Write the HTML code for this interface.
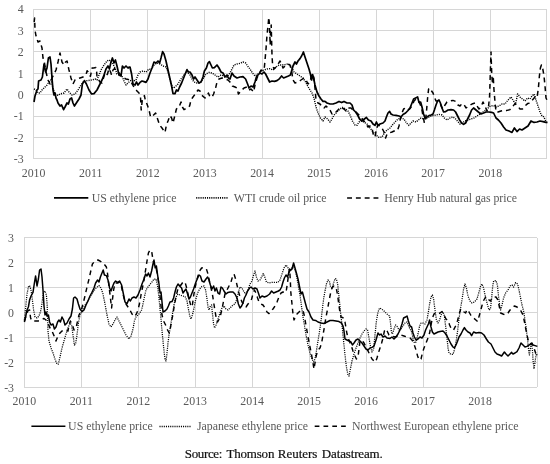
<!DOCTYPE html>
<html><head><meta charset="utf-8"><title>Ethylene prices</title>
<style>
html,body{margin:0;padding:0;background:#fff;}
body{width:550px;height:464px;overflow:hidden;}
svg{display:block;}
text{font-family:"Liberation Serif",serif;font-size:11.85px;fill:#595959;}
.cap{font-size:13px;fill:#111;stroke:#111;stroke-width:0.2;}
.g{stroke:#d6d6d6;stroke-width:1;fill:none;shape-rendering:crispEdges;}
.s{stroke:#000;stroke-width:1.7;fill:none;stroke-linejoin:round;stroke-linecap:butt;}
.d{stroke:#000;stroke-width:1.5;fill:none;stroke-dasharray:4.9 3.9;stroke-linejoin:round;}
.t{stroke:#000;stroke-width:1.4;fill:none;stroke-dasharray:1.1 1.1;stroke-linejoin:round;}
.b .s{stroke-width:1.5;}
.b .d{stroke-width:1.45;stroke-dasharray:4.7 4.1;}
.b .t{stroke-width:1.25;}
</style></head><body>
<svg width="550" height="464" viewBox="0 0 550 464">
<rect width="550" height="464" fill="#fff"/>

<line class="g" x1="33.6" x2="546.6" y1="9.0" y2="9.0"/>
<text x="23.6" y="13.3" text-anchor="end">4</text>
<line class="g" x1="33.6" x2="546.6" y1="30.4" y2="30.4"/>
<text x="23.6" y="34.7" text-anchor="end">3</text>
<line class="g" x1="33.6" x2="546.6" y1="51.8" y2="51.8"/>
<text x="23.6" y="56.1" text-anchor="end">2</text>
<line class="g" x1="33.6" x2="546.6" y1="73.2" y2="73.2"/>
<text x="23.6" y="77.5" text-anchor="end">1</text>
<line class="g" x1="33.6" x2="546.6" y1="94.6" y2="94.6"/>
<text x="23.6" y="98.9" text-anchor="end">0</text>
<line class="g" x1="33.6" x2="546.6" y1="116.0" y2="116.0"/>
<text x="23.6" y="120.3" text-anchor="end">-1</text>
<line class="g" x1="33.6" x2="546.6" y1="137.4" y2="137.4"/>
<text x="23.6" y="141.7" text-anchor="end">-2</text>
<line class="g" x1="33.6" x2="546.6" y1="158.8" y2="158.8"/>
<text x="23.6" y="163.1" text-anchor="end">-3</text>
<line class="g" x1="33.6" x2="33.6" y1="9.0" y2="158.8"/>
<text x="33.6" y="177.0" text-anchor="middle">2010</text>
<line class="g" x1="90.7" x2="90.7" y1="9.0" y2="158.8"/>
<text x="90.7" y="177.0" text-anchor="middle">2011</text>
<line class="g" x1="147.8" x2="147.8" y1="9.0" y2="158.8"/>
<text x="147.8" y="177.0" text-anchor="middle">2012</text>
<line class="g" x1="204.9" x2="204.9" y1="9.0" y2="158.8"/>
<text x="204.9" y="177.0" text-anchor="middle">2013</text>
<line class="g" x1="262.0" x2="262.0" y1="9.0" y2="158.8"/>
<text x="262.0" y="177.0" text-anchor="middle">2014</text>
<line class="g" x1="319.1" x2="319.1" y1="9.0" y2="158.8"/>
<text x="319.1" y="177.0" text-anchor="middle">2015</text>
<line class="g" x1="376.1" x2="376.1" y1="9.0" y2="158.8"/>
<text x="376.1" y="177.0" text-anchor="middle">2016</text>
<line class="g" x1="433.2" x2="433.2" y1="9.0" y2="158.8"/>
<text x="433.2" y="177.0" text-anchor="middle">2017</text>
<line class="g" x1="490.3" x2="490.3" y1="9.0" y2="158.8"/>
<text x="490.3" y="177.0" text-anchor="middle">2018</text>
<line class="g" x1="546.6" x2="546.6" y1="9.0" y2="158.8"/>
<path class="t" d="M34.0,89.0 L36.0,90.0 L38.0,93.0 L40.0,93.0 L42.0,90.0 L45.0,87.0 L47.0,85.0 L49.0,82.0 L51.0,80.0 L53.0,88.0 L55.0,94.0 L58.0,95.4 L60.0,94.0 L64.0,93.0 L67.0,89.0 L69.0,92.0 L72.0,95.0 L75.0,94.0 L78.0,90.0 L81.0,85.0 L84.0,81.0 L88.0,80.5 L92.0,80.0 L95.0,79.0 L97.0,80.0 L99.0,75.0 L101.0,70.0 L104.0,65.0 L107.0,61.0 L109.0,60.0 L112.0,62.0 L115.0,68.0 L117.0,74.0 L120.0,75.0 L122.0,76.0 L124.0,81.0 L126.0,85.0 L128.0,83.0 L130.0,81.0 L132.0,80.0 L134.0,81.0 L136.0,80.0 L138.0,75.0 L140.0,72.0 L143.0,71.0 L146.0,72.0 L149.0,69.0 L151.0,69.5 L154.0,65.0 L157.0,63.0 L160.0,64.0 L163.0,66.0 L166.0,67.0 L168.0,72.0 L170.0,79.0 L172.0,86.0 L173.0,88.0 L175.0,87.0 L178.0,84.0 L181.0,79.0 L184.0,75.0 L187.0,72.0 L190.0,75.0 L192.0,79.0 L194.0,82.0 L197.0,83.0 L200.0,83.0 L203.0,79.0 L206.0,74.0 L209.0,72.4 L212.0,73.0 L215.0,75.0 L218.0,77.0 L221.0,75.0 L224.0,76.0 L227.0,77.0 L230.0,73.0 L232.0,69.0 L234.0,65.0 L237.0,64.0 L240.0,63.4 L243.0,62.0 L245.6,63.0 L247.6,66.0 L250.0,69.0 L252.4,73.0 L255.0,76.0 L258.0,74.0 L261.0,71.0 L264.0,70.0 L267.0,69.0 L270.0,68.6 L273.0,70.0 L276.0,67.0 L279.0,65.0 L282.0,65.0 L285.0,64.6 L288.0,64.0 L290.0,65.0 L292.0,68.0 L294.0,72.0 L297.0,74.0 L300.0,76.0 L303.0,78.0 L305.6,82.0 L307.6,86.0 L310.0,90.0 L312.0,93.0 L314.0,98.0 L316.0,107.0 L318.0,113.0 L320.4,118.0 L323.0,121.0 L325.0,117.0 L327.6,119.0 L330.0,122.0 L332.0,119.0 L334.0,115.0 L337.0,112.0 L340.0,109.0 L342.4,107.4 L345.0,108.6 L348.0,111.0 L350.0,115.0 L352.4,121.0 L355.0,125.0 L357.0,125.4 L359.0,122.0 L361.0,121.0 L364.0,122.0 L367.0,124.0 L370.0,128.0 L373.0,132.0 L376.0,135.0 L379.0,137.4 L382.0,137.0 L384.4,133.0 L387.0,130.0 L390.0,128.0 L392.4,125.0 L395.0,122.0 L398.0,119.0 L401.0,118.0 L404.0,119.0 L406.4,123.0 L409.0,125.4 L411.0,123.0 L413.0,121.0 L416.0,122.0 L418.4,120.0 L421.0,118.0 L424.0,119.0 L427.0,118.0 L430.0,116.4 L433.0,115.6 L436.0,115.0 L439.0,114.4 L442.0,115.0 L444.4,118.0 L447.0,120.0 L450.0,118.0 L453.0,117.0 L455.6,119.0 L458.0,121.6 L460.0,124.0 L462.4,123.0 L465.0,121.0 L468.0,120.0 L471.0,119.0 L474.0,118.0 L477.0,116.0 L480.0,114.0 L483.0,112.0 L486.0,110.0 L489.0,107.0 L490.6,106.0 L493.6,105.6 L496.0,107.0 L499.0,106.0 L502.0,104.0 L505.0,104.0 L508.0,100.0 L511.0,97.0 L513.6,101.0 L515.6,104.0 L517.6,94.0 L520.0,97.0 L522.4,99.0 L525.0,101.0 L527.6,98.0 L530.0,99.0 L532.0,96.0 L534.0,94.0 L536.0,100.0 L538.0,106.0 L540.0,112.0 L542.0,116.0 L544.0,117.0 L546.0,122.0 L547.5,123.0"/>
<path class="d" d="M34.2,22.0 L34.6,18.0 L35.0,30.0 L36.0,36.0 L38.0,42.0 L40.0,41.0 L42.0,48.0 L43.0,58.0 L44.5,63.0 L46.0,72.0 L48.0,80.0 L50.0,84.0 L52.0,78.0 L54.0,74.0 L56.0,70.0 L58.0,62.0 L60.0,53.0 L62.0,62.0 L64.0,65.0 L65.5,62.0 L67.0,61.0 L69.0,70.0 L71.0,78.0 L73.0,84.0 L75.0,80.0 L77.0,79.0 L80.0,78.0 L83.0,77.0 L86.0,74.7 L87.1,70.8 L88.2,72.0 L88.8,74.7 L90.4,76.3 L92.1,68.0 L93.7,67.9 L95.9,67.5 L96.5,69.7 L97.0,76.9 L98.1,79.0 L100.0,82.0 L102.0,83.0 L103.5,78.0 L104.7,74.0 L106.0,76.0 L107.5,74.0 L109.0,68.6 L110.8,72.5 L111.5,75.0 L113.0,70.0 L114.6,68.6 L116.0,71.0 L118.0,72.0 L120.0,74.0 L122.0,76.0 L124.0,78.0 L126.0,79.0 L128.4,79.6 L130.5,80.7 L132.7,85.0 L135.0,89.0 L137.0,91.0 L139.0,93.0 L140.5,97.0 L141.2,110.0 L142.3,100.0 L144.4,95.6 L145.5,101.0 L147.0,104.0 L149.0,110.0 L150.6,117.0 L153.0,115.6 L155.6,113.0 L157.6,119.0 L159.6,125.0 L162.0,128.0 L165.0,132.4 L166.4,125.0 L168.0,121.0 L170.0,115.6 L171.6,118.0 L173.0,123.0 L175.0,115.0 L176.4,109.0 L179.0,107.0 L181.0,102.0 L182.4,107.0 L184.0,109.6 L187.0,108.0 L189.6,106.0 L191.0,100.0 L193.0,97.0 L196.0,93.0 L198.0,90.0 L200.0,91.0 L201.6,95.0 L205.0,98.0 L207.0,96.0 L208.4,93.0 L210.0,97.0 L212.0,97.0 L213.6,94.0 L215.6,88.0 L217.0,82.0 L219.0,79.0 L222.0,78.0 L225.0,79.0 L228.0,80.0 L230.0,82.0 L232.4,86.0 L235.0,87.0 L237.0,88.0 L238.4,94.0 L241.0,91.0 L244.0,88.0 L247.0,87.0 L249.0,90.0 L251.0,89.0 L253.6,92.0 L255.0,85.0 L257.0,78.0 L259.0,74.0 L261.0,70.0 L263.0,71.0 L264.4,67.0 L266.0,49.0 L267.0,35.0 L268.2,24.0 L268.8,17.2 L269.4,24.0 L269.8,35.0 L270.2,45.0 L270.6,30.0 L271.2,25.0 L271.6,40.0 L272.0,55.0 L272.6,65.0 L274.0,69.0 L277.0,66.0 L280.0,61.0 L281.6,64.0 L283.0,68.0 L285.0,66.0 L288.0,64.0 L290.0,65.0 L291.6,71.0 L293.0,80.0 L295.0,83.0 L298.0,82.0 L301.0,80.0 L304.0,78.0 L306.0,80.0 L308.0,84.0 L310.0,82.0 L311.6,75.0 L313.0,74.0 L314.0,79.0 L315.0,88.0 L316.0,100.0 L318.0,103.0 L320.0,104.0 L321.6,106.0 L324.0,108.0 L326.0,106.0 L328.0,108.0 L330.0,110.0 L332.0,114.0 L334.0,114.0 L336.0,112.0 L338.0,110.0 L340.0,107.4 L342.0,108.0 L344.0,109.0 L346.0,111.0 L348.0,108.0 L351.0,108.0 L353.0,110.0 L356.0,112.0 L359.0,115.0 L361.0,117.0 L363.0,120.0 L365.6,123.0 L368.0,127.0 L370.0,126.0 L372.0,128.0 L373.6,136.0 L375.0,137.0 L376.4,129.0 L378.0,125.0 L380.0,126.0 L382.0,128.0 L384.0,132.0 L385.6,138.0 L387.0,134.0 L389.0,133.0 L392.0,132.0 L395.0,130.6 L397.6,130.0 L399.0,126.0 L400.4,119.0 L402.0,113.0 L403.6,109.0 L405.6,108.0 L407.6,110.0 L409.6,109.0 L412.0,106.0 L414.0,101.0 L416.0,99.0 L418.0,100.0 L420.0,104.0 L421.6,108.0 L423.0,116.0 L424.4,123.0 L425.6,120.0 L426.6,110.0 L427.6,98.0 L428.6,89.0 L430.0,88.0 L431.6,91.0 L433.0,93.0 L434.4,97.0 L436.0,101.0 L438.0,101.0 L440.0,103.0 L441.6,107.0 L443.0,109.0 L445.0,105.0 L447.0,102.0 L450.0,101.0 L453.0,100.4 L456.0,101.6 L458.0,105.0 L460.0,106.0 L462.0,103.6 L464.0,104.4 L466.0,108.0 L469.0,106.0 L472.0,104.0 L475.0,103.0 L477.0,106.0 L479.0,109.0 L481.0,107.0 L483.0,102.0 L485.0,106.0 L487.0,111.0 L488.4,108.0 L489.6,96.0 L490.4,70.0 L491.0,52.0 L491.6,70.0 L492.4,84.0 L493.2,76.0 L494.0,90.0 L495.0,102.0 L496.0,112.0 L498.0,112.0 L501.0,111.0 L504.0,110.4 L507.0,110.4 L510.0,109.6 L512.4,107.0 L515.0,103.6 L517.6,106.0 L520.0,109.0 L522.4,109.0 L525.0,106.0 L527.6,103.6 L530.0,103.0 L532.4,100.0 L535.0,97.0 L537.0,98.0 L538.4,88.0 L539.4,76.0 L540.4,68.0 L541.4,65.0 L542.8,69.0 L544.0,76.0 L545.0,86.0 L546.0,98.0 L547.0,100.0"/>
<path class="s" d="M34.0,102.0 L35.0,96.0 L36.0,93.0 L37.0,90.0 L38.0,89.0 L38.6,81.0 L41.0,80.0 L42.4,77.0 L44.0,64.0 L45.6,72.0 L47.0,68.0 L48.4,58.0 L50.0,57.0 L51.0,64.0 L52.0,78.0 L53.0,90.0 L54.0,95.0 L55.0,93.0 L56.0,98.0 L57.0,100.0 L58.0,103.0 L60.0,106.0 L61.6,105.0 L63.6,109.6 L65.0,107.0 L67.0,103.0 L68.4,104.0 L70.0,99.0 L71.6,98.0 L73.0,103.0 L74.4,106.0 L77.0,102.0 L79.0,99.0 L81.0,95.0 L82.4,84.0 L84.4,80.6 L86.4,84.0 L89.0,90.0 L91.6,94.0 L94.0,93.6 L97.0,90.0 L100.0,84.0 L102.0,80.0 L104.0,75.0 L106.0,69.0 L108.0,66.0 L109.4,69.0 L111.0,62.0 L112.4,58.0 L114.0,63.0 L115.4,60.0 L117.0,66.0 L119.0,75.0 L121.0,76.0 L122.4,66.0 L124.0,68.0 L126.0,66.0 L128.0,68.0 L129.4,67.0 L130.0,67.0 L131.6,74.0 L133.0,84.0 L135.0,85.0 L136.4,82.0 L138.0,85.0 L140.0,82.4 L142.0,81.0 L144.0,81.6 L146.0,82.4 L148.0,79.0 L150.0,73.0 L152.0,68.0 L154.0,62.0 L156.0,63.0 L158.0,61.0 L159.6,63.0 L161.0,58.0 L162.6,51.6 L164.0,54.0 L166.0,61.0 L168.0,70.0 L170.0,79.0 L171.6,86.0 L173.0,93.6 L175.0,93.6 L176.4,90.0 L178.0,91.0 L179.6,87.0 L181.6,83.0 L183.6,78.0 L185.6,73.0 L187.0,69.6 L188.4,72.0 L190.0,72.0 L192.0,75.0 L193.6,79.0 L195.0,77.0 L197.0,80.0 L199.0,83.0 L201.0,82.0 L203.0,77.0 L204.4,71.0 L206.4,68.0 L208.0,63.0 L209.4,61.6 L211.0,65.0 L212.4,68.0 L214.4,67.6 L217.0,65.0 L219.0,68.0 L221.0,72.0 L223.0,73.0 L225.0,77.0 L227.0,75.0 L228.4,78.0 L230.0,79.0 L232.0,73.0 L234.0,76.0 L237.0,78.0 L240.0,77.0 L243.0,76.6 L245.6,79.0 L247.6,84.0 L249.0,88.0 L251.0,86.0 L253.0,87.0 L255.0,82.0 L256.4,77.0 L258.0,75.0 L260.0,73.0 L262.0,74.0 L264.0,72.0 L265.6,74.0 L267.6,78.0 L269.6,82.0 L272.0,81.0 L274.4,81.4 L277.0,80.6 L279.6,78.6 L281.6,76.0 L283.6,78.0 L286.0,77.0 L288.4,76.0 L290.4,75.0 L291.6,71.0 L293.0,66.0 L295.0,62.0 L296.4,64.0 L298.0,61.0 L300.0,58.6 L301.6,56.0 L303.4,52.0 L305.0,57.0 L307.0,63.0 L309.0,69.0 L310.4,74.0 L311.6,80.0 L312.6,74.5 L313.6,78.0 L315.0,85.0 L317.0,92.0 L319.0,96.0 L321.0,99.0 L323.0,101.4 L325.0,101.4 L327.0,103.0 L330.0,104.0 L333.0,104.0 L336.0,103.0 L339.0,101.4 L341.6,102.6 L344.0,101.4 L347.0,103.0 L350.0,103.0 L352.0,105.0 L353.6,110.0 L355.6,112.0 L357.6,115.0 L359.6,119.0 L362.0,121.0 L364.4,119.0 L366.4,117.4 L368.4,120.0 L371.0,121.0 L373.0,124.0 L375.0,125.4 L376.4,122.0 L378.0,125.4 L380.0,124.0 L383.0,123.0 L385.0,121.0 L386.4,117.0 L388.0,113.0 L389.6,111.4 L391.0,114.0 L393.0,115.0 L396.0,115.4 L399.0,116.0 L401.0,117.0 L403.0,114.5 L405.6,113.0 L408.0,110.5 L410.0,108.0 L411.6,104.0 L413.6,99.0 L415.6,98.0 L417.6,97.0 L419.0,102.4 L420.6,102.0 L422.0,107.0 L423.6,114.0 L425.0,118.0 L427.0,117.0 L429.0,115.6 L431.0,115.0 L433.0,114.0 L434.4,110.0 L436.0,105.0 L437.6,101.0 L439.0,100.0 L440.4,103.0 L442.0,108.0 L443.6,112.0 L445.6,111.6 L448.0,110.0 L451.0,109.6 L453.6,110.0 L455.6,112.0 L457.6,116.0 L459.6,120.0 L461.6,123.0 L463.6,124.4 L465.6,123.0 L467.6,119.0 L469.6,115.0 L471.6,110.0 L473.6,108.0 L476.0,110.0 L478.4,112.0 L481.0,114.0 L483.6,113.0 L486.0,112.0 L489.0,112.0 L491.6,112.4 L493.6,113.0 L496.0,118.0 L498.4,120.0 L501.0,123.0 L503.6,127.0 L506.0,130.0 L509.0,131.0 L512.0,132.4 L514.4,128.0 L517.0,131.6 L519.6,129.0 L522.0,130.0 L525.0,128.0 L528.0,126.0 L531.0,121.0 L534.0,122.4 L537.0,122.0 L540.0,121.0 L543.0,121.6 L546.0,122.4 L547.5,122.4"/>
<line class="s" x1="54" x2="88.3" y1="197.9" y2="197.9"/>
<text x="91.8" y="202.1" textLength="84.6" lengthAdjust="spacing">US ethylene price</text>
<line class="t" x1="196.2" x2="228.5" y1="197.9" y2="197.9" style="stroke-dasharray:1.08 1.08;stroke-width:1.6"/>
<text x="233.8" y="202.1" textLength="92.8" lengthAdjust="spacing">WTI crude oil price</text>
<line class="d" x1="347.1" x2="379" y1="197.9" y2="197.9"/>
<text x="384.2" y="202.1" textLength="132.7" lengthAdjust="spacing">Henry Hub natural gas price</text>

<g class="b">
<line class="g" x1="24.3" x2="537.3" y1="237.9" y2="237.9"/>
<text x="14" y="242.1" text-anchor="end">3</text>
<line class="g" x1="24.3" x2="537.3" y1="262.8" y2="262.8"/>
<text x="14" y="267.0" text-anchor="end">2</text>
<line class="g" x1="24.3" x2="537.3" y1="287.7" y2="287.7"/>
<text x="14" y="291.9" text-anchor="end">1</text>
<line class="g" x1="24.3" x2="537.3" y1="312.6" y2="312.6"/>
<text x="14" y="316.8" text-anchor="end">0</text>
<line class="g" x1="24.3" x2="537.3" y1="337.5" y2="337.5"/>
<text x="14" y="341.7" text-anchor="end">-1</text>
<line class="g" x1="24.3" x2="537.3" y1="362.4" y2="362.4"/>
<text x="14" y="366.6" text-anchor="end">-2</text>
<line class="g" x1="24.3" x2="537.3" y1="387.4" y2="387.4"/>
<text x="14" y="391.6" text-anchor="end">-3</text>
<line class="g" x1="24.3" x2="24.3" y1="237.9" y2="387.4"/>
<text x="24.3" y="405.0" text-anchor="middle">2010</text>
<line class="g" x1="81.3" x2="81.3" y1="237.9" y2="387.4"/>
<text x="81.3" y="405.0" text-anchor="middle">2011</text>
<line class="g" x1="138.3" x2="138.3" y1="237.9" y2="387.4"/>
<text x="138.3" y="405.0" text-anchor="middle">2012</text>
<line class="g" x1="195.2" x2="195.2" y1="237.9" y2="387.4"/>
<text x="195.2" y="405.0" text-anchor="middle">2013</text>
<line class="g" x1="252.2" x2="252.2" y1="237.9" y2="387.4"/>
<text x="252.2" y="405.0" text-anchor="middle">2014</text>
<line class="g" x1="309.2" x2="309.2" y1="237.9" y2="387.4"/>
<text x="309.2" y="405.0" text-anchor="middle">2015</text>
<line class="g" x1="366.2" x2="366.2" y1="237.9" y2="387.4"/>
<text x="366.2" y="405.0" text-anchor="middle">2016</text>
<line class="g" x1="423.2" x2="423.2" y1="237.9" y2="387.4"/>
<text x="423.2" y="405.0" text-anchor="middle">2017</text>
<line class="g" x1="480.1" x2="480.1" y1="237.9" y2="387.4"/>
<text x="480.1" y="405.0" text-anchor="middle">2018</text>
<line class="g" x1="537.3" x2="537.3" y1="237.9" y2="387.4"/>
<path class="t" d="M24.4,320.0 L25.6,308.0 L27.0,294.0 L28.4,287.0 L29.6,285.6 L31.0,290.0 L32.4,300.0 L33.6,310.0 L35.0,317.0 L37.0,318.0 L39.0,316.0 L41.0,310.0 L42.4,300.0 L43.6,292.0 L45.0,291.0 L46.4,295.0 L47.2,306.0 L48.0,331.0 L49.0,341.0 L51.0,348.0 L53.0,353.0 L55.0,359.0 L57.0,364.0 L58.4,364.0 L60.0,357.0 L62.0,348.0 L64.0,341.0 L66.0,334.0 L68.0,328.0 L70.0,323.0 L71.6,325.0 L73.0,335.0 L74.4,345.0 L75.6,344.0 L77.0,335.0 L78.4,323.0 L80.0,315.0 L82.0,311.0 L84.0,307.0 L87.0,302.0 L90.0,297.0 L93.0,292.0 L96.0,288.0 L99.0,285.6 L101.0,288.0 L103.0,294.0 L105.0,304.0 L107.0,315.0 L109.0,324.0 L111.0,327.0 L113.0,324.0 L115.0,320.0 L117.0,317.0 L119.0,321.0 L121.0,325.0 L123.0,329.0 L126.0,335.0 L129.0,339.0 L131.0,336.0 L133.0,329.0 L134.4,321.0 L136.0,317.0 L139.0,314.0 L141.6,310.0 L143.0,304.0 L144.4,297.0 L146.0,290.0 L148.0,287.0 L150.0,284.4 L152.0,282.0 L154.0,279.0 L156.0,279.0 L157.6,286.0 L159.0,298.0 L160.0,309.0 L161.0,319.0 L162.0,331.0 L163.0,341.0 L164.0,351.0 L165.0,359.0 L166.0,361.0 L167.0,353.0 L168.0,343.0 L169.0,335.0 L170.4,327.0 L172.0,317.0 L173.6,307.0 L175.0,300.0 L176.0,297.0 L178.0,294.0 L180.0,295.0 L182.4,296.0 L185.0,296.4 L187.0,301.0 L188.4,309.0 L190.0,317.0 L191.0,319.0 L192.4,315.0 L194.0,308.0 L195.6,300.0 L197.6,293.0 L199.6,289.0 L202.0,286.4 L204.0,286.0 L205.6,290.0 L207.0,299.0 L208.0,307.0 L209.0,310.0 L210.4,306.0 L211.6,305.0 L212.6,315.0 L213.6,324.0 L214.6,328.0 L216.0,325.0 L218.0,319.0 L220.0,313.0 L222.0,308.0 L224.0,306.0 L226.0,309.0 L228.0,310.0 L231.0,307.0 L233.0,305.0 L235.0,304.0 L237.0,299.0 L238.4,292.0 L240.0,287.0 L242.0,288.0 L244.0,292.0 L246.0,294.0 L248.0,290.0 L250.0,284.0 L252.0,281.0 L253.6,275.0 L255.0,271.0 L256.4,277.0 L258.0,281.0 L260.0,280.0 L261.6,277.0 L263.2,273.6 L264.8,277.0 L266.4,282.0 L269.0,283.0 L272.0,282.4 L275.0,282.4 L278.0,282.4 L280.0,280.0 L282.0,274.0 L284.0,268.0 L286.0,265.0 L287.6,267.0 L289.0,270.0 L291.0,270.0 L293.0,266.0 L295.0,270.0 L297.0,278.0 L299.0,290.0 L300.0,295.0 L301.6,307.0 L303.0,317.0 L304.4,325.0 L306.0,335.0 L308.0,345.0 L310.0,353.0 L312.0,359.0 L313.6,362.0 L315.0,359.0 L316.4,351.0 L318.0,341.0 L319.6,331.0 L321.0,321.0 L322.4,309.0 L323.6,299.0 L325.0,291.0 L326.4,284.0 L328.0,280.0 L329.4,281.0 L330.6,287.0 L332.0,288.0 L333.6,283.0 L335.0,278.6 L336.4,279.0 L337.6,284.0 L338.6,293.0 L339.6,303.0 L340.6,313.0 L342.0,325.0 L343.6,341.0 L345.0,355.0 L346.4,367.0 L348.0,375.0 L349.0,376.0 L350.4,369.0 L352.0,361.0 L354.0,354.0 L356.0,348.0 L358.0,343.0 L360.0,338.0 L362.0,334.0 L364.0,331.0 L366.0,329.0 L367.6,330.0 L369.0,338.0 L370.4,346.0 L372.0,352.0 L373.6,349.0 L375.0,335.0 L376.4,321.0 L378.0,312.0 L379.6,308.0 L381.6,309.0 L384.0,311.0 L387.0,314.0 L389.6,316.0 L390.6,324.0 L391.4,332.0 L392.4,334.0 L394.0,329.0 L395.6,325.0 L397.6,327.0 L399.0,330.0 L401.0,329.0 L403.0,326.0 L405.0,323.0 L407.0,322.0 L409.0,327.0 L411.6,332.0 L413.0,338.0 L414.4,343.0 L416.0,342.0 L418.0,334.0 L419.6,326.0 L421.0,323.0 L423.0,323.0 L425.0,324.0 L427.0,320.0 L428.4,312.0 L429.6,304.0 L431.0,297.0 L432.4,295.0 L433.6,299.0 L435.0,310.0 L436.4,320.0 L438.0,323.0 L439.6,320.0 L441.0,315.0 L443.0,312.0 L444.4,316.0 L445.6,326.0 L447.0,338.0 L448.0,348.0 L449.0,353.0 L451.0,354.4 L453.0,354.4 L454.4,350.0 L456.0,342.0 L457.6,331.0 L459.0,319.0 L460.4,309.0 L462.0,300.0 L463.6,289.0 L465.0,284.0 L466.4,288.0 L468.0,296.0 L470.0,301.0 L472.0,303.0 L474.4,302.0 L477.0,299.0 L479.0,292.0 L480.6,286.0 L482.0,284.0 L483.6,288.0 L485.0,295.0 L487.0,303.0 L489.0,310.0 L490.4,309.0 L491.6,299.0 L492.6,287.0 L493.6,281.0 L496.0,280.6 L497.4,285.0 L498.4,295.0 L499.6,305.0 L500.6,310.0 L502.0,305.0 L503.6,298.0 L505.6,293.0 L508.0,290.0 L510.0,286.0 L512.0,285.0 L513.6,287.0 L515.6,282.6 L517.6,284.0 L519.0,290.0 L520.4,297.0 L522.0,305.0 L523.6,311.0 L525.0,320.0 L526.4,330.0 L527.6,340.0 L528.6,350.0 L529.4,355.0 L530.4,348.0 L531.4,343.0 L532.4,350.0 L533.2,362.0 L534.0,369.0 L534.8,364.0 L535.6,358.0 L536.4,354.0 L537.4,355.0"/>
<path class="d" d="M24.4,321.0 L26.0,316.0 L28.0,310.5 L29.6,310.0 L30.6,318.0 L32.0,321.0 L35.0,321.0 L38.0,321.0 L41.0,320.0 L44.0,318.5 L46.0,320.0 L48.0,323.0 L50.0,328.0 L52.0,331.0 L55.0,338.0 L56.0,341.0 L58.0,336.0 L60.0,333.0 L62.0,331.0 L65.0,330.0 L68.0,331.0 L69.0,325.0 L70.4,321.0 L72.4,325.0 L74.0,330.0 L76.0,328.0 L77.6,321.0 L79.0,315.0 L81.0,311.0 L83.0,304.0 L85.0,296.0 L87.0,287.0 L89.0,279.0 L91.0,270.0 L92.4,264.0 L95.0,261.0 L98.0,260.0 L101.0,261.6 L104.0,264.0 L106.4,267.0 L107.6,274.0 L109.0,286.0 L110.4,298.0 L111.6,308.0 L112.4,300.0 L113.6,290.0 L115.0,283.0 L117.6,283.0 L119.6,282.0 L121.6,287.0 L123.0,294.0 L124.5,300.0 L126.0,304.0 L128.0,307.0 L130.0,310.0 L132.0,314.0 L134.4,316.6 L136.4,314.0 L138.0,310.0 L139.6,303.0 L141.0,295.0 L142.4,288.0 L144.0,280.0 L145.6,270.0 L147.0,261.0 L148.4,253.0 L150.0,250.0 L151.6,251.0 L153.0,260.0 L154.4,265.0 L156.0,268.0 L157.6,275.0 L159.0,286.0 L160.0,296.0 L161.0,306.0 L162.0,315.0 L163.6,321.0 L165.6,325.0 L167.6,330.0 L169.2,333.0 L170.4,328.0 L171.6,321.0 L173.0,314.0 L174.4,305.0 L176.0,297.0 L177.6,290.0 L179.0,286.0 L181.0,285.0 L183.0,282.0 L185.0,282.0 L186.4,287.0 L188.0,294.0 L189.6,301.0 L191.2,307.0 L192.4,305.0 L193.6,296.0 L195.0,288.0 L196.4,282.0 L198.0,276.0 L199.6,271.0 L201.6,268.0 L204.0,267.6 L206.4,269.0 L208.0,274.0 L209.6,282.0 L211.0,288.0 L212.4,294.0 L213.6,302.0 L215.0,311.0 L216.4,319.0 L217.6,322.0 L219.0,319.5 L220.5,315.5 L222.0,309.0 L223.6,301.0 L225.0,294.0 L227.0,290.0 L229.0,286.0 L231.0,282.0 L232.4,277.0 L234.0,274.0 L235.6,279.0 L237.0,285.0 L238.4,291.0 L240.0,297.0 L242.0,302.0 L244.0,305.0 L246.0,307.0 L248.0,304.0 L250.0,302.0 L251.6,299.0 L253.0,294.0 L254.4,290.0 L256.0,293.0 L257.6,298.0 L259.0,302.0 L261.0,304.0 L263.0,305.0 L265.0,308.0 L267.0,312.0 L269.0,313.6 L271.0,311.0 L273.0,309.0 L275.0,306.0 L277.0,302.0 L279.0,297.0 L281.0,293.0 L283.0,292.0 L285.0,293.0 L286.4,290.0 L287.6,282.0 L288.6,274.0 L289.6,269.0 L290.2,278.0 L290.8,292.0 L292.0,304.0 L293.0,314.0 L294.0,320.0 L295.6,317.0 L297.0,314.0 L299.0,312.0 L301.0,310.4 L303.0,310.4 L304.4,316.0 L305.6,323.0 L307.0,331.0 L308.4,339.0 L310.0,347.0 L311.6,355.0 L313.0,363.0 L314.0,369.0 L315.0,363.0 L316.4,355.0 L318.0,350.0 L320.0,348.0 L321.6,343.0 L323.0,335.0 L324.4,327.0 L326.0,317.0 L327.6,309.0 L329.0,301.0 L330.4,294.0 L332.0,288.0 L333.6,286.0 L335.0,286.0 L336.4,289.0 L337.6,295.0 L338.6,303.0 L339.6,310.0 L341.0,317.0 L343.6,318.0 L345.0,322.0 L346.0,328.0 L347.0,334.0 L349.0,340.0 L351.0,345.0 L353.0,351.0 L355.0,356.0 L356.4,359.0 L358.0,357.0 L359.0,349.0 L360.0,341.0 L362.0,340.0 L364.0,343.0 L366.0,347.0 L368.0,351.0 L370.0,355.0 L372.0,359.0 L374.0,361.0 L375.6,362.0 L377.0,358.0 L378.4,353.0 L380.0,348.0 L381.6,343.0 L383.0,338.0 L384.4,331.0 L386.0,329.0 L387.6,332.0 L389.0,335.0 L392.0,336.0 L395.0,337.0 L398.0,336.0 L401.0,335.0 L404.0,336.0 L407.0,337.0 L410.0,338.0 L412.0,340.0 L414.0,344.0 L416.0,350.0 L417.6,356.0 L419.0,360.0 L421.0,359.0 L422.4,353.0 L424.0,348.0 L426.0,343.0 L428.0,338.0 L429.6,333.0 L431.0,325.0 L432.4,318.0 L434.0,314.0 L436.0,313.0 L438.0,314.0 L440.0,313.0 L442.0,311.5 L444.0,315.0 L446.0,319.0 L448.0,320.5 L449.6,325.0 L451.6,329.5 L453.6,330.0 L455.6,326.0 L457.6,320.5 L459.0,314.5 L460.6,309.5 L462.4,309.0 L464.0,312.0 L465.6,313.0 L467.0,309.5 L469.0,312.0 L471.0,315.5 L473.0,317.5 L475.6,319.7 L477.6,321.5 L479.0,316.5 L480.6,311.0 L482.0,305.5 L483.6,300.5 L485.6,297.0 L487.6,297.0 L489.0,300.0 L490.4,301.0 L492.0,298.0 L494.0,297.0 L496.0,297.0 L498.0,300.0 L499.4,307.0 L500.6,313.0 L503.0,314.0 L505.6,315.0 L508.0,313.0 L510.0,310.0 L512.0,308.0 L514.4,306.0 L517.0,307.0 L519.0,309.0 L521.0,311.0 L523.0,315.0 L524.4,321.5 L525.6,328.0 L527.0,335.0 L528.4,341.0 L530.0,344.0 L532.0,343.0 L534.0,348.0 L535.6,353.0 L537.4,354.0"/>
<path class="s" d="M24.4,322.0 L25.6,317.0 L27.0,310.0 L28.4,307.0 L29.6,300.0 L31.0,296.0 L33.0,292.4 L34.4,283.0 L35.6,276.0 L37.0,286.0 L38.4,279.0 L39.6,270.0 L41.0,269.0 L42.0,277.0 L43.0,290.0 L44.0,306.0 L45.0,315.0 L46.0,312.0 L47.0,316.0 L48.4,315.0 L49.6,322.0 L51.0,325.0 L53.0,324.0 L54.4,329.0 L56.0,327.0 L57.6,322.0 L59.0,320.0 L60.4,322.0 L62.0,317.0 L63.6,320.0 L65.0,325.0 L67.0,323.0 L69.0,319.0 L71.0,316.0 L72.4,309.0 L73.6,298.0 L75.0,297.0 L77.0,299.0 L78.4,304.0 L80.0,309.0 L82.0,311.6 L84.0,310.0 L86.0,305.0 L88.0,301.0 L90.0,296.0 L92.0,292.4 L94.0,288.0 L95.6,283.0 L97.6,280.0 L99.0,282.0 L100.4,277.0 L102.0,273.0 L103.2,270.0 L104.4,275.0 L106.4,275.6 L108.0,280.0 L109.6,288.0 L111.0,291.0 L112.4,287.0 L114.0,283.0 L115.6,281.0 L117.6,282.4 L119.6,281.0 L121.6,285.0 L123.0,292.0 L125.0,302.0 L127.0,303.6 L129.0,299.0 L130.4,301.0 L132.0,298.0 L134.0,297.0 L136.0,298.0 L138.0,295.0 L140.0,290.0 L142.0,284.0 L144.0,279.0 L145.6,274.0 L147.0,276.0 L148.4,273.0 L150.0,277.0 L151.6,271.0 L153.0,264.0 L154.0,260.0 L155.2,268.0 L156.4,266.0 L157.6,275.0 L159.0,284.0 L160.0,293.0 L161.0,292.0 L162.0,302.0 L163.0,312.0 L165.0,311.0 L167.0,309.0 L168.4,306.0 L170.0,302.0 L172.0,301.6 L173.6,298.0 L175.0,292.0 L176.4,287.0 L178.0,284.0 L179.6,286.0 L181.6,288.0 L183.0,293.0 L184.4,291.0 L186.0,289.0 L187.6,294.0 L189.0,299.0 L190.4,297.0 L192.0,293.0 L193.6,289.0 L195.6,283.0 L197.6,278.0 L199.0,275.0 L200.4,276.0 L202.0,281.0 L204.0,282.0 L206.0,279.0 L207.6,277.0 L209.0,280.0 L210.4,285.0 L212.0,289.0 L213.6,286.0 L215.0,291.0 L216.4,288.0 L218.0,293.0 L219.6,294.0 L221.0,287.0 L222.4,288.0 L224.0,291.0 L226.0,294.0 L228.0,292.4 L230.0,292.0 L233.0,292.0 L235.0,294.0 L237.0,298.0 L238.4,304.0 L240.0,308.0 L241.6,306.0 L243.0,303.0 L244.4,298.0 L246.0,295.0 L247.6,291.0 L249.6,288.0 L251.0,287.0 L253.0,289.0 L255.0,288.0 L257.0,289.0 L258.4,293.0 L260.0,298.0 L262.0,296.0 L264.4,297.0 L267.0,296.0 L269.6,294.0 L271.6,291.0 L273.6,293.0 L276.0,292.0 L278.4,291.0 L280.0,290.0 L281.6,287.0 L283.0,282.0 L284.4,278.0 L286.0,275.0 L287.6,277.0 L289.0,272.0 L290.4,270.0 L292.0,269.0 L293.6,263.0 L295.0,268.0 L296.4,273.0 L298.0,279.0 L299.6,287.0 L301.0,294.0 L302.4,292.0 L304.0,298.0 L305.6,304.0 L307.0,309.0 L309.0,312.0 L311.0,317.0 L313.0,320.0 L315.6,320.4 L318.0,322.0 L321.0,323.0 L324.0,323.5 L327.0,322.0 L330.0,320.5 L333.0,320.5 L336.0,321.0 L339.0,321.6 L341.5,323.0 L343.0,326.0 L344.0,331.0 L345.0,339.0 L347.0,340.0 L349.0,341.0 L351.0,342.0 L352.4,345.0 L354.0,343.0 L356.0,340.0 L358.0,339.0 L360.0,341.0 L362.0,343.0 L364.0,346.0 L366.0,349.0 L368.0,350.0 L370.0,348.0 L372.0,347.4 L374.0,346.0 L376.0,340.0 L378.0,333.0 L379.6,335.0 L381.0,334.0 L383.0,337.0 L385.0,336.0 L387.0,338.0 L390.0,338.4 L392.0,337.0 L394.0,339.0 L396.0,337.0 L398.0,334.0 L400.0,330.0 L402.0,324.0 L403.6,318.0 L405.6,317.0 L407.0,316.0 L408.4,321.0 L410.0,326.0 L411.6,327.0 L413.0,333.0 L414.4,337.0 L416.0,340.0 L418.0,339.0 L420.0,337.0 L422.0,338.0 L424.0,335.0 L425.6,330.0 L427.0,327.0 L428.4,324.0 L429.6,320.0 L431.0,327.0 L432.4,332.0 L434.0,334.0 L436.0,333.0 L438.0,332.0 L440.0,331.6 L443.0,331.0 L445.0,333.0 L447.0,336.0 L449.0,340.0 L451.0,344.0 L453.0,347.0 L454.4,348.0 L456.0,345.0 L457.6,341.0 L459.0,337.0 L461.0,334.0 L463.0,330.0 L464.4,327.6 L466.0,330.0 L468.0,332.0 L470.0,333.0 L471.6,335.6 L473.6,332.0 L476.0,333.0 L479.0,332.4 L481.6,333.0 L484.0,335.0 L486.4,339.0 L488.4,342.0 L491.0,344.0 L493.0,348.0 L495.0,352.0 L497.0,354.0 L499.6,355.0 L501.6,356.0 L503.0,354.0 L504.4,352.0 L506.0,354.0 L508.0,356.0 L510.0,354.0 L511.6,352.4 L513.0,354.0 L515.0,353.0 L517.0,351.6 L519.0,348.0 L521.0,343.0 L523.0,345.0 L525.0,347.0 L527.0,346.4 L529.0,345.0 L531.0,344.0 L533.0,345.0 L535.0,345.6 L537.4,346.4"/>
<line class="s" x1="31.4" x2="65.4" y1="426.3" y2="426.3"/>
<text x="68.1" y="430.3" textLength="84.7" lengthAdjust="spacing">US ethylene price</text>
<line class="t" x1="159.5" x2="191.6" y1="426.4" y2="426.4" style="stroke-dasharray:1.07 1.07;stroke-width:1.5"/>
<text x="197" y="430.3" textLength="111" lengthAdjust="spacing">Japanese ethylene price</text>
<line class="d" x1="314.7" x2="346" y1="426.3" y2="426.3"/>
<text x="352" y="430.3" textLength="166.6" lengthAdjust="spacing">Northwest European ethylene price</text>
</g>
<text class="cap" y="458.1"><tspan x="184.8" textLength="37.6">Source:</tspan> <tspan x="226.4" textLength="48">Thomson</tspan> <tspan x="277.8" textLength="39.6">Reuters</tspan> <tspan x="321.8" textLength="61">Datastream.</tspan></text>

</svg></body></html>
